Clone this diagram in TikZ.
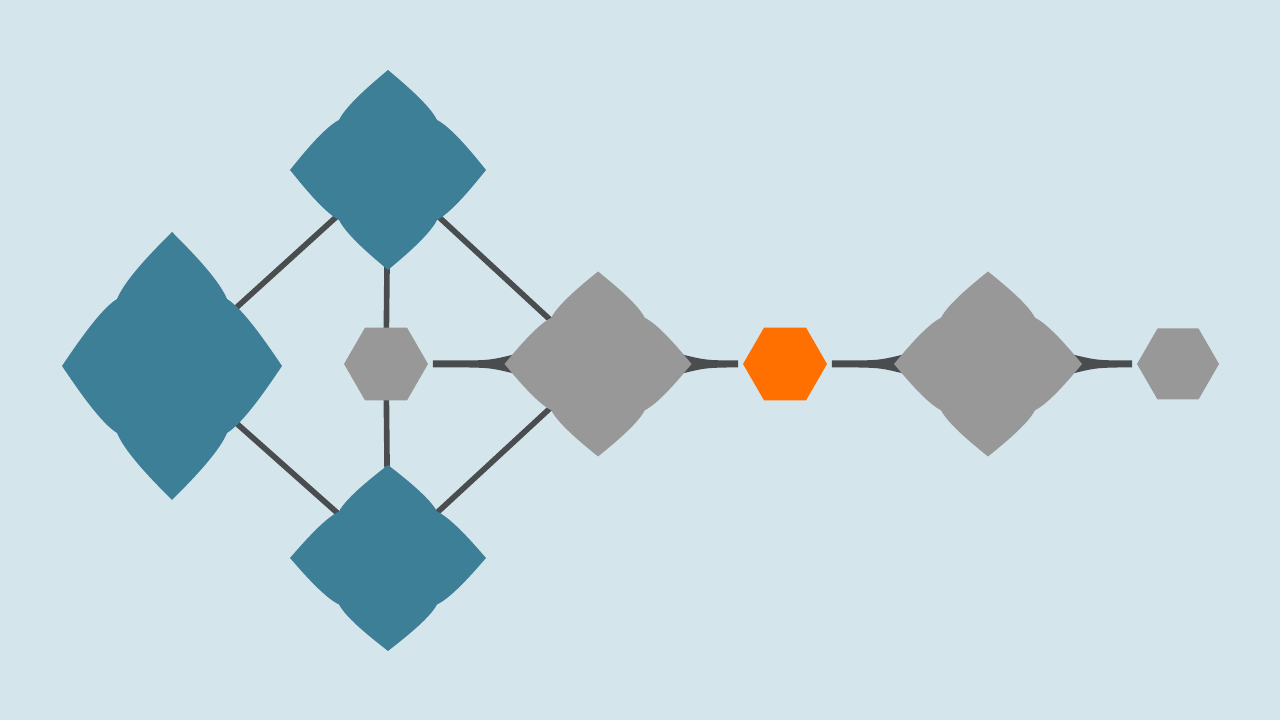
\documentclass[tikz,border=0pt]{standalone}
\usepackage{xcolor}
\usetikzlibrary{shapes.geometric,calc}

\definecolor{bgcol}{HTML}{D5E5EC}
\definecolor{tealcol}{HTML}{3D7F97}
\definecolor{greycol}{HTML}{989898}
\definecolor{orangecol}{HTML}{FF7000}
\definecolor{edgecol}{HTML}{4A4D50}

\pgfdeclarelayer{bg}
\pgfdeclarelayer{back}
\pgfsetlayers{bg,back,main}

\tikzset{
  hexa/.style={regular polygon, regular polygon sides=6, inner sep=0pt, minimum size=0.84cm},
  link/.style={draw=edgecol, line width=1.6pt},
}

% bumpy diamond outline, unit half sizes
\newcommand{\blobpath}{(0,1) .. controls (0.12,0.9) and (0.42,0.66) .. (0.5,0.5)
  .. controls (0.66,0.42) and (0.9,0.12) .. (1,0)
  .. controls (0.9,-0.12) and (0.66,-0.42) .. (0.5,-0.5)
  .. controls (0.42,-0.66) and (0.12,-0.9) .. (0,-1)
  .. controls (-0.12,-0.9) and (-0.42,-0.66) .. (-0.5,-0.5)
  .. controls (-0.66,-0.42) and (-0.9,-0.12) .. (-1,0)
  .. controls (-0.9,0.12) and (-0.66,0.42) .. (-0.5,0.5)
  .. controls (-0.42,0.66) and (-0.12,0.9) .. (0,1) -- cycle}

% #1 name, #2 colour, #3 half width, #4 half height, #5 centre
\newcommand{\blob}[5]{%
  \node[diamond, inner sep=0pt, minimum width=2*#3cm, minimum height=2*#4cm] (#1) at #5 {};
  \fill[#2, shift={#5}, xscale=#3, yscale=#4] \blobpath;}

% wide end #1 sits inside a diamond, thin end #2 at a hexagon
\newcommand{\flare}[2]{%
  \fill[edgecol] ($(#2)!0.04cm!(#1)+(0,0.035)$) -- ($(#1)!0.35cm!(#2)+(0,0.035)$)
    .. controls ($(#1)!0.12cm!(#2)+(0,0.04)$) .. ($(#1)!-0.2cm!(#2)+(0,0.12)$)
    -- ($(#1)!-0.2cm!(#2)+(0,-0.12)$)
    .. controls ($(#1)!0.12cm!(#2)+(0,-0.04)$) .. ($(#1)!0.35cm!(#2)+(0,-0.035)$)
    -- ($(#2)!0.04cm!(#1)+(0,-0.035)$) -- cycle;}

\begin{document}
\begin{tikzpicture}
  \begin{pgfonlayer}{bg}
    \fill[bgcol] (0,0) rectangle (12.8,7.2);
  \end{pgfonlayer}
  \useasboundingbox (0,0) rectangle (12.8,7.2);

  % left cluster
  \blob{lft}{tealcol}{1.1}{1.34}{(1.72,3.54)}
  \blob{top}{tealcol}{0.98}{1.0}{(3.88,5.50)}
  \blob{bot}{tealcol}{0.98}{0.93}{(3.88,1.62)}
  \node[hexa, fill=greycol] (hub) at (3.86,3.56) {};

  % chain to the right
  \blob{mid}{greycol}{0.935}{0.925}{(5.98,3.56)}
  \node[hexa, fill=orangecol] (dot) at (7.85,3.56) {};
  \blob{rgt}{greycol}{0.94}{0.925}{(9.88,3.56)}
  \node[hexa, fill=greycol, minimum size=0.82cm] (tip) at (11.78,3.56) {};

  \begin{pgfonlayer}{back}
    \draw[link] (lft.center) -- (top.center);
    \draw[link] (lft.center) -- (bot.center);
    \draw[link] (top.center) -- (hub.center);
    \draw[link] (hub.center) -- (bot.center);
    \draw[link] (top.center) -- (mid.center);
    \draw[link] (bot.center) -- (mid.center);
    \flare{mid.west}{hub.east}
    \flare{mid.east}{dot.west}
    \flare{rgt.west}{dot.east}
    \flare{rgt.east}{tip.west}
  \end{pgfonlayer}
\end{tikzpicture}
\end{document}
